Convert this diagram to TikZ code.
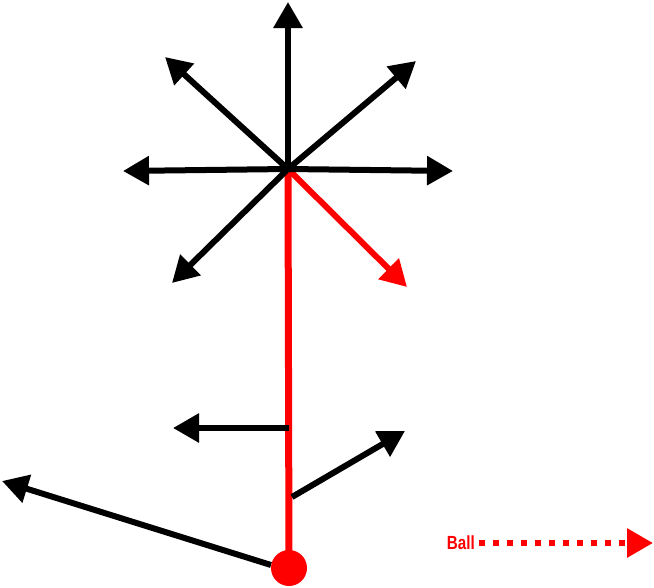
\documentclass[tikz,border=0pt]{standalone}
\usepackage{fontspec}
\setmainfont{Liberation Sans}
\usepackage{xcolor}
\usetikzlibrary{arrows.meta}
\definecolor{ballred}{RGB}{255,0,0}
\tikzset{
  vec/.style={line width=6pt, -{Triangle[length=26pt,width=28pt]}},
  redvec/.style={vec, draw=ballred},
  balltext/.style={text=ballred, font=\bfseries\fontsize{19}{19}\selectfont, xscale=0.8, inner sep=0pt}
}

\begin{document}
\begin{tikzpicture}[x=1pt,y=1pt,yscale=-1,xscale=1]
\useasboundingbox (0,0) rectangle (654,587);

% Points
\coordinate (hub) at (288,169);
\coordinate (ball) at (289,568);
\coordinate (kick) at (289,428);
\coordinate (bend) at (292,497);
\coordinate (foot) at (271,565);

%Straight Lines: red shaft and red arrow
\draw [line width=7pt, draw=ballred] (hub) -- (ball) ;
\draw [redvec] (hub) -- (407,287) ;

%Straight Lines: the star of directions
\draw [vec] (hub) -- (288,2) ;
\draw [vec] (hub) -- (165,57) ;
\draw [vec] (hub) -- (416,61) ;
\draw [vec] (hub) -- (123,171) ;
\draw [vec] (hub) -- (453,171) ;
\draw [vec] (hub) -- (172,283) ;

%Straight Lines: arrows off the shaft
\draw [vec] (kick) -- (173,428) ;
\draw [vec] (bend) -- (405,431) ;
\draw [vec] (foot) -- (2,481) ;

%Shape: Circle
\fill [ballred] (ball) circle (18) ;

% Text Node
\node [balltext, anchor=east] (lbl) at (475,543) {Ball};
%Dotted arrow
\draw [redvec, dash pattern=on 6pt off 8pt] (lbl.east) ++(4,0) coordinate (dstart) -- (653,543) ;

\end{tikzpicture}
\end{document}
